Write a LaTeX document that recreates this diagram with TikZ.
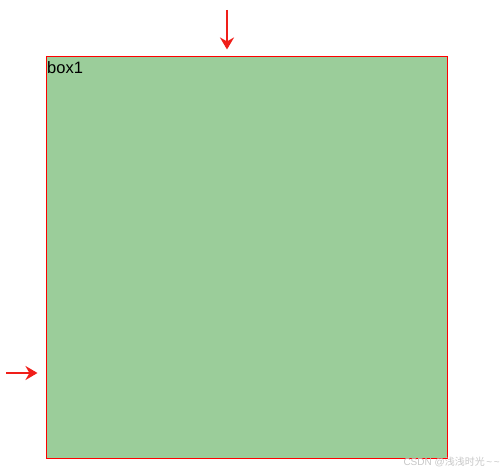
\documentclass[tikz,border=0pt]{standalone}
\usepackage{fontspec}
\setmainfont{Liberation Sans}
\newfontfamily\cjk{Noto Sans CJK SC}
\usetikzlibrary{arrows.meta}
\definecolor{boxgreen}{RGB}{155,205,154}
\definecolor{arrowred}{RGB}{240,30,25}
\tikzset{
  boxshape/.style={draw=red,fill=boxgreen,line width=1pt,minimum width=401pt,minimum height=401pt,inner sep=0pt},
  redarrow/.style={arrowred,line width=2.8pt,-{Stealth[length=12pt,width=14pt]}}
}

\begin{document}
\begin{tikzpicture}[x=1pt,y=-1pt]
\useasboundingbox (0,0) rectangle (504,473);
\node[boxshape] (box1) at (246.5,257.5) {};
\node[anchor=north west,inner sep=1pt,font=\fontsize{16.5}{18}\selectfont] (boxlabel) at ([xshift=0.5pt,yshift=-4pt]box1.north west) {box1};
\coordinate (topstart) at (227,10);
\coordinate (leftstart) at (6,373);
\draw[redarrow,shorten >=7pt] (topstart) -- (topstart |- box1.north);
\draw[redarrow,shorten >=8pt] (leftstart) -- (leftstart -| box1.west);
\node[anchor=east,inner sep=0pt,text=black!22,font=\fontsize{10}{11}\selectfont] (mark) at (500,462) {CSDN @{\cjk 浅浅时光}\,\textasciitilde\,\textasciitilde};
\end{tikzpicture}
\end{document}
